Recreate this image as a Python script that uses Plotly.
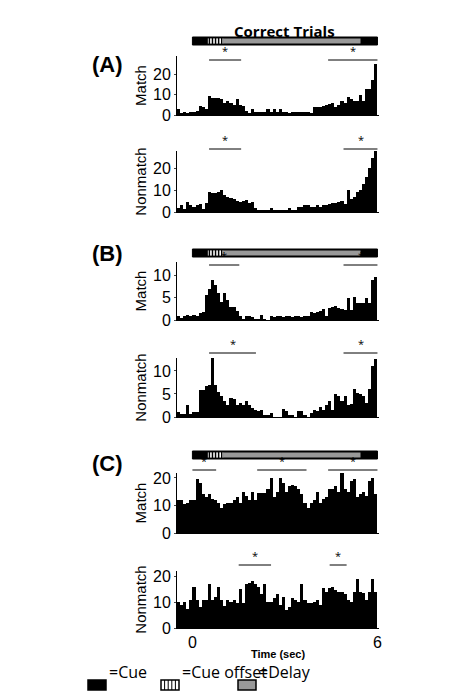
import plotly.graph_objects as go

W, H = 474, 697

bin_w = 0.1
t0 = -0.5

a_match = [3, 1, 1.5, 1, 1.5, 1.5, 2, 4.5, 4, 3, 9.5, 8.5, 8.5, 8.5, 8, 6, 7, 6, 5, 8,
           5, 4.5, 2, 1, 3, 1.5, 1.5, 1.5, 1.5, 3, 1.5, 3, 1.5, 3, 1.5, 1.5, 0.5, 1.5, 1.5, 1.5,
           1.5, 1.5, 1.5, 1, 4, 4, 4, 4.5, 5, 5.5, 6, 4, 5, 7, 6, 9, 8, 7, 7, 10,
           7, 13, 13, 17, 25]
a_nonmatch = [2, 3, 1.5, 4.5, 3, 2.5, 3, 3.5, 1.5, 4, 9, 8.5, 8.5, 9, 10, 8, 7, 6.5, 6, 5,
              4.5, 5, 5.5, 4, 4.5, 2, 1, 1, 1, 1, 2, 1, 1, 1, 1, 1, 2, 0.5, 0.5, 2.5,
              2.5, 3, 3, 2.5, 2.5, 3, 2.5, 3, 3, 3.5, 4, 4, 4.5, 5, 3.5, 10, 6, 7, 9, 10,
              13, 16, 20, 25, 28]
b_match = [1, 0.5, 1, 1.2, 1, 1.2, 0.8, 1.5, 1.8, 5.5, 7, 8.8, 7.8, 6, 4, 6, 4.5, 3, 3, 2,
           1, 0.2, 1, 1, 0.7, 0.2, 0.2, 1.2, 0.2, 0, 0.8, 0.6, 0.8, 0.9, 0.6, 1, 0.8, 0.6, 0.8, 0.8,
           0.6, 1, 0.8, 1.8, 1.6, 1.8, 2, 2.4, 0.8, 2.6, 2.8, 3.2, 2.6, 2.5, 2.2, 5, 2.2, 5.2, 3.8, 3.8,
           3.8, 5, 3.8, 8.8, 9.5]
b_nonmatch = [1, 0.7, 0.7, 2.5, 0.6, 1, 1, 5.8, 5.8, 6.8, 7, 12.8, 7, 5.5, 4.5, 3.5, 2.5, 4.2, 3.8, 2.5,
              3, 2.5, 3.5, 2.5, 2, 1.5, 1.2, 1.5, 0.3, 0.5, 0.8, 0, 0, 0, 1.8, 1.2, 0.5, 0.5, 0, 1.2,
              1.2, 0.5, 0, 0.8, 1.6, 1.2, 2.2, 1.6, 2.5, 3.5, 1.5, 5, 4.5, 3.5, 4.5, 2.5, 2.8, 6, 5.2, 5,
              4.5, 3, 6, 11, 12.5]
c_match = [12, 12, 10.5, 11, 12, 12, 19.5, 18, 14, 13, 14, 12.5, 12, 11, 9, 10.5, 11, 11, 12, 13,
           11, 15, 13.5, 12, 15, 12, 14.5, 14.5, 14.5, 16, 20, 13, 15, 20, 18, 15, 17, 17.5, 17, 16,
           14, 11, 9, 11, 12, 15, 11, 12.5, 13, 16, 16, 17, 15, 22, 16, 15, 19, 19.5, 13, 14,
           15, 13.5, 19, 20, 14]
c_nonmatch = [10, 9, 10, 7.5, 11, 16, 11, 8, 11, 11, 17, 11, 12, 16, 11, 8.5, 11, 10, 11, 9.5,
              15, 9.5, 17, 17.5, 18, 17, 16, 13, 17, 10, 10, 11.5, 13, 9, 12, 7, 8, 11.5, 11, 10,
              17, 11, 9.5, 9.5, 10, 11, 9, 15.5, 14, 15.5, 16, 14.5, 14, 14, 13, 11, 10, 14, 19, 14,
              13.5, 11, 14, 19, 14]

# significance bars (start, end) in sec
sig = {
    "am": [(0.54, 1.58), (4.4, 6.0)],
    "an": [(0.54, 1.58), (4.9, 6.0)],
    "bm": [(0.54, 1.52), (4.9, 6.0)],
    "bn": [(0.54, 2.06), (4.9, 6.0)],
    "cm": [(0.0, 0.77), (2.1, 3.7), (4.4, 6.0)],
    "cn": [(1.5, 2.55), (4.45, 5.0)],
}

# panel: data, y max, top px, bottom px, sig line px, ytitle, ticks
panels = [
    ("am", a_match, 29, 48, 107, 52, "Match", [0, 10, 20]),
    ("an", a_nonmatch, 28, 143, 204, 141, "Nonmatch", [0, 10, 20]),
    ("bm", b_match, 12.9, 254, 312, 257, "Match", [0, 5, 10]),
    ("bn", b_nonmatch, 12.8, 350, 409, 345, "Nonmatch", [0, 5, 10]),
    ("cm", c_match, 21.8, 465, 525, 462, "Match", [0, 10, 20]),
    ("cn", c_nonmatch, 22, 563, 620, 557, "Nonmatch", [0, 10, 20]),
]
epoch_px = [33, 245, 447]
letters = [("(A)", 42), ("(B)", 245), ("(C)", 470)]

def py(px):
    return 1 - px / H

x0, x1 = 169 / W, 371 / W
fig = go.Figure()
shapes, annots = [], []
for i, (key, vals, ymax, top, bot, spx, title, ticks) in enumerate(panels):
    n = i + 1
    xs = [t0 + bin_w * (k + 0.5) for k in range(len(vals))]
    fig.add_trace(go.Bar(x=xs, y=vals, width=bin_w, marker_color="black",
                         marker_line_width=0, xaxis=f"x{n}", yaxis=f"y{n}", showlegend=False))
    last = i == len(panels) - 1
    fig.layout[f"xaxis{n}"] = dict(domain=[x0, x1], range=[-0.5, 6.05], anchor=f"y{n}",
                                   showline=True, linecolor="black", linewidth=1,
                                   showgrid=False, zeroline=False, automargin=False,
                                   tickvals=[0, 6] if last else [], ticks="",
                                   tickfont=dict(size=16, family="Arial", color="black"),
                                   title=dict(text="<b>Time (sec)</b>", standoff=0,
                                              font=dict(size=11, family="Arial", color="black"))
                                   if last else None)
    fig.layout[f"yaxis{n}"] = dict(domain=[py(bot), py(top)], range=[0, ymax], anchor=f"x{n}",
                                   showline=True, linecolor="black", linewidth=1,
                                   showgrid=False, zeroline=False, tickvals=ticks,
                                   ticks="outside", ticklen=2, automargin=False,
                                   tickfont=dict(size=16, family="Arial", color="black"),
                                   title=dict(text=title, standoff=2,
                                              font=dict(size=15, family="Arial", color="black")))
    for s, e in sig[key]:
        shapes.append(dict(type="line", xref=f"x{n}", yref="paper", x0=s, x1=e,
                           y0=py(spx), y1=py(spx), line=dict(color="black", width=1)))
        annots.append(dict(text="*", xref=f"x{n}", yref="paper", x=(s + e) / 2, y=py(spx),
                           yanchor="bottom", showarrow=False, font=dict(size=11, color="black")))

# epoch bars above each panel group
for g, ep in enumerate(epoch_px):
    xr = f"x{2 * g + 1}"
    ya, yb = py(ep - 4), py(ep + 4)
    shapes.append(dict(type="rect", xref=xr, yref="paper", x0=0, x1=6, y0=yb, y1=ya,
                       fillcolor="black", line=dict(color="black", width=1)))
    shapes.append(dict(type="rect", xref=xr, yref="paper", x0=1.0, x1=5.45, y0=yb + 0.002,
                       y1=ya - 0.002, fillcolor="#999999", line=dict(width=0)))
    shapes.append(dict(type="rect", xref=xr, yref="paper", x0=0.5, x1=1.0, y0=yb + 0.002,
                       y1=ya - 0.002, fillcolor="white", line=dict(width=0)))
    for k in range(5):
        xx = 0.55 + k * 0.1
        shapes.append(dict(type="line", xref=xr, yref="paper", x0=xx, x1=xx, y0=yb, y1=ya,
                           line=dict(color="black", width=1.5)))

for txt, ypx in letters:
    annots.append(dict(text=f"<b>{txt}</b>", xref="paper", yref="paper", x=82 / W, y=py(ypx),
                       xanchor="left", showarrow=False,
                       font=dict(size=22, family="Arial", color="black")))
annots.append(dict(text="<b>Correct Trials</b>", xref="paper", yref="paper", x=276 / W,
                   y=py(11), showarrow=False, font=dict(size=15, family="Open Sans", color="black")))

# legend at bottom
leg_y = py(677)
legend_items = [("=Cue", 80, "black"), ("=Cue offset", 153, "stripe"), ("=Delay", 230, "#999999")]
for txt, lx, col in legend_items:
    r0, r1 = lx / W, (lx + 18) / W
    fill = "white" if col == "stripe" else col
    shapes.append(dict(type="rect", xref="paper", yref="paper", x0=r0, x1=r1,
                       y0=leg_y - 5 / H, y1=leg_y + 5 / H, fillcolor=fill,
                       line=dict(color="black", width=1.5)))
    if col == "stripe":
        for k in range(1, 5):
            xx = (lx + k * 3.6) / W
            shapes.append(dict(type="line", xref="paper", yref="paper", x0=xx, x1=xx,
                               y0=leg_y - 5 / H, y1=leg_y + 5 / H, line=dict(color="black", width=1)))
    annots.append(dict(text=txt, xref="paper", yref="paper", x=(lx + 19) / W, y=leg_y,
                       xanchor="left", showarrow=False,
                       font=dict(size=16, family="Open Sans", color="black")))

fig.update_layout(width=W, height=H, margin=dict(l=0, r=0, t=0, b=0, autoexpand=False),
                  paper_bgcolor="white", plot_bgcolor="white", bargap=0,
                  shapes=shapes, annotations=annots)
fig.write_html("out.html")
